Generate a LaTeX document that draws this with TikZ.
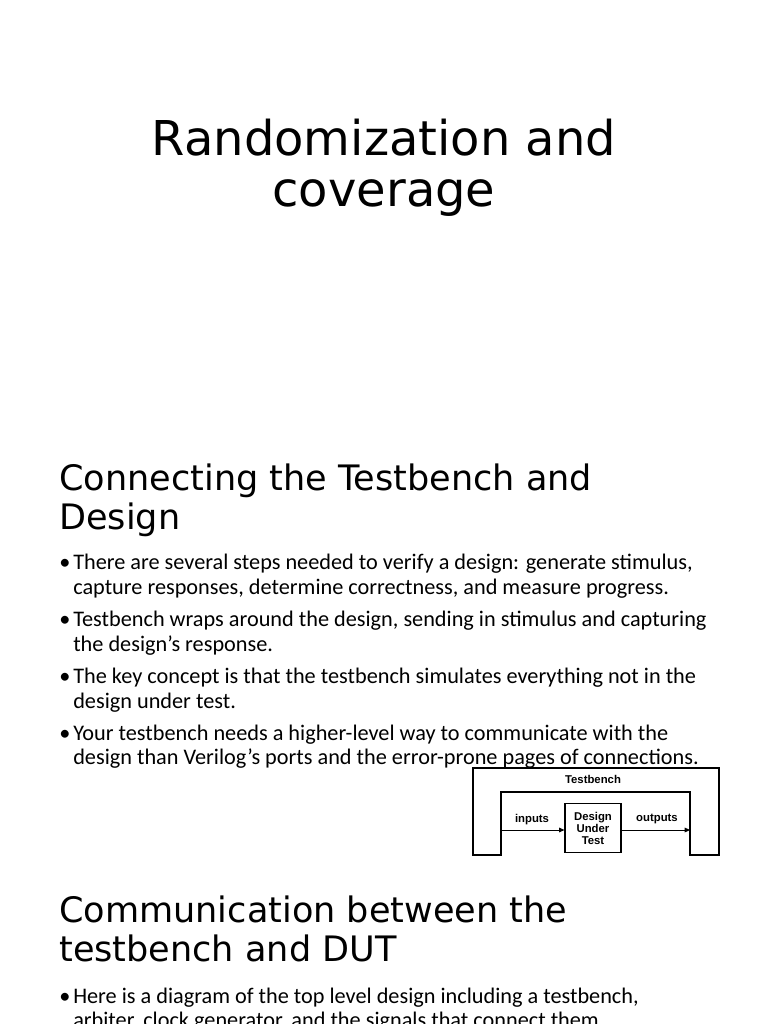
\documentclass[tikz,border=0pt]{standalone}
\usepackage{fontspec}
\setmainfont{Carlito}
\newfontfamily\headfont{DejaVu Sans}
\newfontfamily\boxfont{Liberation Sans}[BoldFont={Liberation Sans Bold}]
\usetikzlibrary{arrows.meta}
\tikzset{
  titletext/.style={font=\headfont\fontsize{36}{40}\selectfont,anchor=base,inner sep=0pt},
  headtext/.style={font=\headfont\fontsize{26.3}{29}\selectfont,anchor=base west,inner sep=0pt},
  bullettext/.style={font=\fontsize{16.7}{19}\selectfont,anchor=base west,inner sep=0pt},
  smalltext/.style={font=\boxfont\bfseries\fontsize{8.5}{9}\selectfont,align=center},
  sigarrow/.style={-{Triangle[length=4pt,width=3.5pt]},line width=0.7pt}
}
\begin{document}
\begin{tikzpicture}[x=0.75pt,y=-0.75pt]
\useasboundingbox[fill=white] (0,0) rectangle (768,1024);
\clip (0,0) rectangle (768,1024);
% title
\node[titletext] (title1) at (384,155) {Randomization and};
\node[titletext] (title2) at (384,206) {coverage};
% first section
\node[headtext] (head1a) at (59,490) {Connecting the Testbench and};
\node[headtext] (head1b) at (59,529) {Design};
\foreach \y/\bul/\t in {569/1/{There are several steps needed to verify a design: generate stimulus,},
                      594/0/{capture responses, determine correctness, and measure progress.},
                      626/1/{Testbench wraps around the design, sending in stimulus and capturing},
                      651/0/{the design’s response.},
                      683/1/{The key concept is that the testbench simulates everything not in the},
                      708/0/{design under test.},
                      740/1/{Your testbench needs a higher-level way to communicate with the},
                      764/0/{design than Verilog’s ports and the error-prone pages of connections.}}{
  \node[bullettext] (line\y) at (73,\y) {\t};
  \ifnum\bul=1 \node[bullettext] (dot\y) at (59,\y) {•};\fi
}
% testbench figure
\draw[line width=0.9pt] (473,855) -- (473,768) -- (719,768) -- (719,855) -- (690,855)
  -- (690,792) -- (501,792) -- (501,855) -- cycle;
\node[smalltext] (tb) at (593,779) {Testbench};
\node[draw,line width=0.9pt,smalltext,minimum width=56*0.75pt,minimum height=49*0.75pt,inner sep=1pt] (dut) at (593,828) {Design\\Under\\Test};
\coordinate (inwall) at (501,830);
\coordinate (outwall) at (690,830);
\draw[sigarrow] (inwall) -- (inwall -| dut.west);
\draw[sigarrow] (outwall -| dut.east) -- (outwall);
\node[smalltext] (inl) at (532,820) {inputs};
\node[smalltext] (outl) at (657,819) {outputs};
% second section
\node[headtext] (head2a) at (59,922) {Communication between the};
\node[headtext] (head2b) at (59,961) {testbench and DUT};
\node[bullettext] (dot2) at (59,1003) {•};
\node[bullettext] (line2a) at (73,1003) {Here is a diagram of the top level design including a testbench,};
\node[bullettext] (line2b) at (73,1027) {arbiter, clock generator, and the signals that connect them.};
\end{tikzpicture}
\end{document}
